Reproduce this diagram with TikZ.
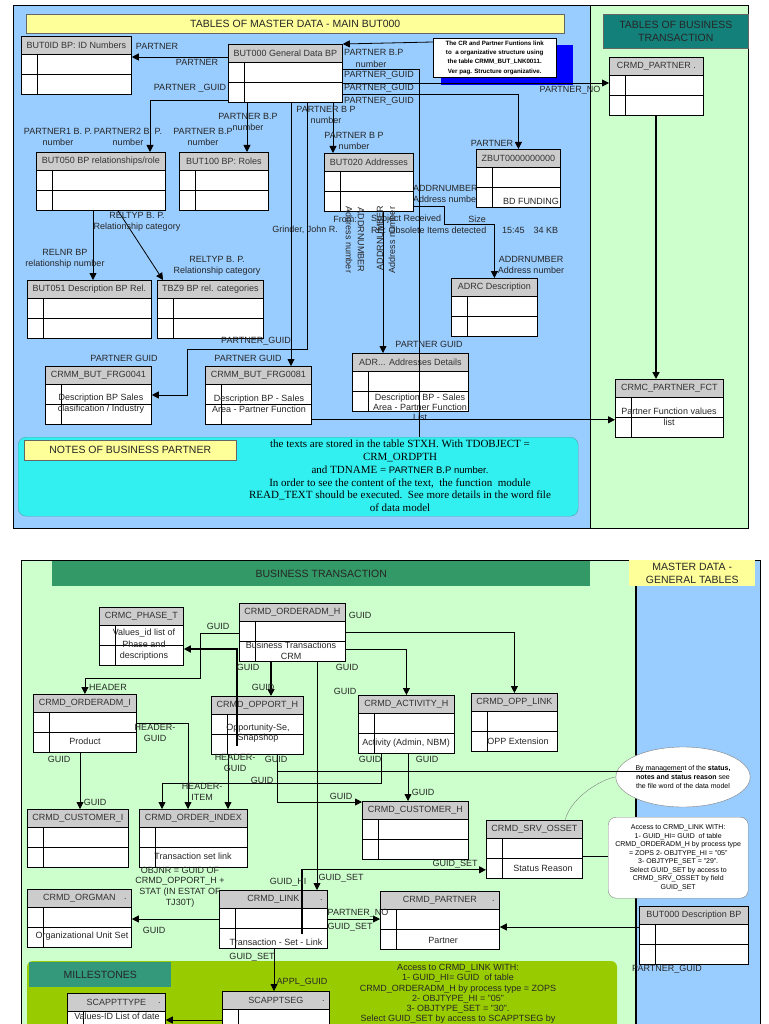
\documentclass[tikz,border=0pt]{standalone}
\usepackage{fontspec}
\setmainfont{Liberation Sans}
\newfontfamily\notefont{Liberation Serif}
\usepackage{tikz}
\usetikzlibrary{arrows.meta,positioning,calc,shapes.geometric}
\definecolor{mdblue}{HTML}{99CCFF}
\definecolor{btgreen}{HTML}{CCFFCC}
\definecolor{ttlyellow}{HTML}{FFFF99}
\definecolor{hdrgray}{HTML}{CCCCCC}
\definecolor{tealbar}{HTML}{14807A}
\definecolor{btbar}{HTML}{339966}
\definecolor{msgreen}{HTML}{99CC00}
\definecolor{msbar}{HTML}{33997A}
\definecolor{notecyan}{HTML}{33F0F0}
\definecolor{shadowblue}{HTML}{0000FF}

% table: [dot] name, x, y (top left), width, title
\newcommand{\dbtable}[6][]{%
  \node[tabbox, minimum width=#5, anchor=north west] (#2) at (#3,#4) {};
  \draw[tabline, fill=hdrgray] (#2.north west) rectangle ([yshift=-18pt]#2.north east);
  \draw[tabline] ([yshift=-38pt]#2.north west) -- ([yshift=-38pt]#2.north east);
  \draw[tabline] ([xshift=16pt,yshift=-18pt]#2.north west) -- ([xshift=16pt]#2.south west);
  \node[tabtitle] (#2t) at ([yshift=-9pt]#2.north) {#6};
  \node[tabtitle, anchor=east] (#2d) at ([xshift=-5pt,yshift=-10pt]#2.north east) {#1};
}

\begin{document}
\begin{tikzpicture}[x=1pt, y=-1pt,
  tabbox/.style={draw, fill=white, minimum height=58pt, inner sep=0pt, line width=0.8pt},
  tabline/.style={line width=0.8pt},
  tabtitle/.style={font=\fontsize{9}{10}\selectfont, text=black!80, inner sep=0pt},
  cell/.style={font=\fontsize{9}{11}\selectfont, text=black!85, inner sep=0pt, align=center},
  lbl/.style={font=\fontsize{9}{11.5}\selectfont, text=black!85, inner sep=0pt, align=center},
  bar/.style={draw=black!60, line width=0.5pt, inner sep=0pt, align=center, anchor=north west, font=\fontsize{10.5}{12.5}\selectfont, text=black!85},
  arr/.style={-{Triangle[length=7pt, width=7pt]}, line width=0.8pt},
  fatarr/.style={-{Triangle[length=7pt, width=7pt]}, line width=1.6pt},
  wire/.style={line width=0.8pt}
]
\useasboundingbox (0,0) rectangle (768,1024);
\fill[white] (0,0) rectangle (768,1024);

% ---- master data panel
\draw[fill=mdblue, line width=0.8pt] (13,5) rectangle (590,528);
\draw[fill=btgreen, line width=0.8pt] (590,5) rectangle (748,528);
\node[bar, fill=ttlyellow, minimum width=538, minimum height=19] (mdtitle) at (26,14) {TABLES OF MASTER DATA - MAIN BUT000};
\node[bar, fill=tealbar, minimum width=145, minimum height=34] (bttitle) at (603,14) {TABLES OF BUSINESS\\TRANSACTION};

\fill[shadowblue] (441,45) rectangle (573,85);
\node[draw, fill=white, minimum width=123, minimum height=39, anchor=north west, inner sep=0pt, align=center,
  font=\fontsize{6.2}{9.4}\selectfont\bfseries] (crnote) at (433,38)
  {The CR and Partner Funtions link\\to\ \ a organizative structure using\\the table CRMM\_BUT\_LNK0011.\\Ver pag. Structure organizative.};

\dbtable{bid}{21}{36}{110}{BUT0ID BP: ID Numbers}
\dbtable{bgen}{228}{44}{114}{BUT000 General Data BP}
\dbtable{brel}{36}{152}{129}{BUT050 BP relationships/role}
\dbtable{brol}{179}{152}{89}{BUT100 BP: Roles}
\dbtable{badr}{324}{153}{89}{BUT020 Addresses}
\node[lbl, anchor=west, align=left] (ladr1) at (413,194) {ADDRNUMBER\\Address number};
\dbtable{zbut}{476}{149}{84}{ZBUT0000000000}
\dbtable{cpar}{609}{57}{94}{CRMD\_PARTNER .}
\dbtable{brds}{27}{280}{124}{BUT051 Description BP Rel.}
\dbtable{tbz}{157}{280}{106}{TBZ9 BP rel. categories}
\dbtable{adrc}{451}{278}{86}{ADRC Description}
\dbtable{frg41}{45}{366}{106}{CRMM\_BUT\_FRG0041}
\dbtable{frg81}{205}{366}{106}{CRMM\_BUT\_FRG0081}
\dbtable{adrd}{352}{353}{116}{ADR... Addresses Details}
\dbtable{pfct}{615}{379}{108}{CRMC\_PARTNER\_FCT}

\node[cell] (zbutx) at (531,201) {BD FUNDING};
\node[cell] (frg41x) at (101,404) {Description BP Sales\\clasification / Industry};
\node[cell] (frg81x) at (259,404) {Description BP - Sales\\Area - Partner Function};
\node[cell, font=\fontsize{9}{10}\selectfont] (adrdx) at (420,407) {Description BP - Sales\\Area - Partner Function\\List};
\node[cell] (pfctx) at (669,417) {Partner Function values\\list};

% stray mail text
\node[lbl] (sfrom) at (345,219) {From:};
\node[lbl, anchor=west] (ssubj) at (371,219) {Subject Received};
\node[lbl] (ssize) at (477,219) {Size};
\node[lbl, anchor=east] (sname) at (338,230) {Grinder, John R.};
\node[lbl, anchor=west] (sre) at (371,230) {RE: Obsolete Items detected};
\node[lbl, anchor=west] (stime) at (502,230) {15:45\quad 34 KB};
\node[lbl, rotate=-90] (radr1) at (349,240) {Address number};
\node[lbl, rotate=-90] (radr2) at (361,240) {ADDRNUMBER};
\node[lbl, rotate=90] (radr3) at (380,238) {ADDRNUMBER};
\node[lbl, rotate=90] (radr4) at (392,240) {Address number};

\coordinate (drop) at (419,437);
\draw[arr] ([yshift=-4pt]crnote.north west) -- (bgen.north east);
\draw[arr] ([yshift=-13pt]bgen.north west) -- ([yshift=-13pt]bgen.north west -| bid.east);
\draw[arr] ([yshift=2pt]bgen.south west) -| ([xshift=114pt]brel.north west);
\draw[arr] ([xshift=19pt]bgen.south west) -- ([xshift=19pt]bgen.south west |- brol.north);
\draw[arr] ([xshift=105pt]bgen.south west) -- ([xshift=105pt]bgen.south west |- badr.north);
\draw[arr] ([xshift=63pt]bgen.south west) -- ([xshift=63pt]bgen.south west |- frg81.north);
\draw[arr] ([xshift=79pt]bgen.south west) |- ([xshift=36pt,yshift=17pt]frg41.north east) |- ([yshift=-29pt]frg41.north east);
\draw[wire] ([yshift=-25pt]bgen.north east) -| (drop);
\draw[arr] ([yshift=-39pt]bgen.north east) -- ([yshift=-39pt]bgen.north east -| cpar.west);
\draw[arr] ([yshift=-50pt]bgen.north east) -| (zbut.north);
\draw[arr] ([xshift=59pt]badr.south west) -- ([xshift=59pt]badr.south west |- adrd.north);
\draw[arr] ([yshift=5pt]badr.south east) -| ++(31,18) -| (adrc.north);
\draw[arr] ([xshift=57pt]brel.south west) -- ([xshift=57pt]brel.south west |- brds.north);
\draw[arr] ([xshift=82pt]brel.south west) -- ([xshift=6pt]tbz.north west);
\draw[fatarr] ([xshift=47pt]cpar.south west) -- ([xshift=47pt]cpar.south west |- pfct.north);
\draw[arr] ([yshift=5pt]frg81.south east) -- ([yshift=5pt]frg81.south east -| pfct.west);

\node[lbl] (lpa1) at (157,46) {PARTNER};
\node[lbl] (lpa2) at (197,62) {PARTNER};
\node[lbl] (lpg1) at (190,88) {PARTNER \_GUID};
\node[lbl] (lp1) at (58,137) {PARTNER1 B. P.\\number};
\node[lbl] (lp2) at (128,137) {PARTNER2 B. P.\\number};
\node[lbl] (lbp1) at (248,122) {PARTNER B.P\\number};
\node[lbl] (lbp2) at (203,137) {PARTNER B.P\\number};
\node[lbl] (lbp3) at (326,115) {PARTNER B P\\number};
\node[lbl] (lbp4) at (354,141) {PARTNER B P\\number};
\node[lbl, anchor=west] (lrbp) at (344,52) {PARTNER B.P};
\node[lbl] (lrnum) at (371,64) {number};
\node[lbl, anchor=west] (lrg1) at (344,75) {PARTNER\_GUID};
\node[lbl, anchor=west] (lrg2) at (344,88) {PARTNER\_GUID};
\node[lbl, anchor=west] (lrg3) at (344,101) {PARTNER\_GUID};
\node[lbl] (lzp) at (492,143) {PARTNER};
\node[lbl] (lpno) at (570,90) {PARTNER\_NO};
\node[lbl] (ladr2) at (531,265) {ADDRNUMBER\\Address number};
\node[lbl] (lrt1) at (137,222) {RELTYP B. P.\\Relationship category};
\node[lbl] (lrt2) at (217,266) {RELTYP B. P.\\Relationship category};
\node[lbl] (lrelnr) at (65,259) {RELNR BP\\relationship number};
\node[lbl] (lpg41) at (124,358) {PARTNER GUID};
\node[lbl] (lpg81) at (248,358) {PARTNER GUID};
\node[lbl] (lpgu) at (256,341) {PARTNER\_GUID};
\node[lbl] (lpgadr) at (429,344) {PARTNER GUID};

% notes
\node[draw=teal!70, fill=notecyan, rounded corners=8pt, minimum width=560, minimum height=79, anchor=north west, inner sep=0pt] (notes) at (18,437) {};
\node[bar, fill=ttlyellow, minimum width=212, minimum height=20] (notehdr) at (24,440) {NOTES OF BUSINESS PARTNER};
\node[font=\notefont\fontsize{11}{12.8}\selectfont, align=center, inner sep=0pt] (notetxt) at (400,476)
  {the texts are stored in the table STXH. With TDOBJECT =\\CRM\_ORDPTH\\and TDNAME = {\rmfamily\fontsize{9.5}{12.8}\selectfont PARTNER B.P number.}\\In order to see the content of the text,\ \ the function\ \ module\\READ\_TEXT should be executed.\ \ See more details in the word file\\of data model};

% ---- business transaction panel
\draw[fill=btgreen, line width=0.8pt] (21,560) rectangle (636,1030);
\draw[fill=mdblue, line width=0.8pt] (636,560) rectangle (760,1030);
\draw[line width=1.6pt] (636,586) -- (636,1030);
\node[bar, fill=btbar, draw=none, minimum width=538, minimum height=25] (btbar) at (52,561) {BUSINESS TRANSACTION};
\node[bar, fill=ttlyellow, draw=none, minimum width=126, minimum height=26] (gentitle) at (629,560) {MASTER DATA -\\GENERAL TABLES};
\fill[msgreen, rounded corners=6pt] (27,961) rectangle (617,1045);
\node[bar, fill=msbar, draw=none, minimum width=142, minimum height=25] (msbar) at (29,962) {MILLESTONES};

\dbtable{phase}{99}{607}{84}{CRMC\_PHASE\_T}
\dbtable{ordh}{239}{603}{106}{CRMD\_ORDERADM\_H}
\dbtable{ordi}{33}{694}{103}{CRMD\_ORDERADM\_I}
\dbtable{opph}{211}{696}{92}{CRMD\_OPPORT\_H}
\dbtable{acth}{358}{695}{96}{CRMD\_ACTIVITY\_H}
\dbtable{oppl}{471}{693}{86}{CRMD\_OPP\_LINK}
\dbtable{cusi}{27}{809}{101}{CRMD\_CUSTOMER\_I}
\dbtable{oidx}{139}{809}{108}{CRMD\_ORDER\_INDEX}
\dbtable{cush}{362}{801}{106}{CRMD\_CUSTOMER\_H}
\dbtable{osset}{486}{820}{96}{CRMD\_SRV\_OSSET}
\dbtable[.]{orgm}{27}{889}{104}{CRMD\_ORGMAN}
\dbtable[.]{link}{219}{890}{108}{CRMD\_LINK}
\dbtable[.]{cpar2}{380}{891}{119}{CRMD\_PARTNER}
\dbtable{bdesc}{639}{906}{109}{BUT000 Description BP}
\dbtable[.]{sctyp}{67}{993}{98}{SCAPPTTYPE}
\dbtable[.]{scseg}{222}{991}{107}{SCAPPTSEG}

\node[cell, font=\fontsize{9}{11.5}\selectfont] (phasex) at (144,645) {Values\_id list of\\Phase and\\descriptions};
\node[cell] (ordhx) at (291,651) {Business Transactions\\CRM};
\node[cell] (ordix) at (85,741) {Product};
\node[cell, font=\fontsize{9}{10}\selectfont] (opphx) at (258,733) {Opportunity-Se,\\Snapshop};
\node[cell] (acthx) at (406,743) {Activity (Admin, NBM)};
\node[cell] (opplx) at (518,741) {OPP Extension};
\node[cell] (oidxx) at (193,856) {Transaction set link};
\node[cell] (ossetx) at (543,868) {Status Reason};
\node[cell] (orgmx) at (82,936) {Organizational Unit Set};
\node[cell] (linkx) at (276,942) {Transaction - Set - Link};
\node[cell] (cpar2x) at (443,940) {Partner};
\node[cell] (sctypx) at (117,1016) {Values-ID List of date};

\node[ellipse, draw=gray, fill=white, minimum width=108, minimum height=60, inner sep=0pt, align=center,
  font=\fontsize{7}{9}\selectfont] (ell) at (683,777)
  {By management of the \textbf{status,}\\\textbf{notes and status reason} see\\the file word of the data model};
\node[draw=gray, fill=white, rounded corners=8pt, minimum width=140, minimum height=81, anchor=north west, inner sep=0pt,
  align=center, font=\fontsize{7}{8.5}\selectfont] (accnote) at (608,817)
  {Access to CRMD\_LINK WITH:\\1- GUID\_HI= GUID\ \ of table\\CRMD\_ORDERADM\_H by process type\\= ZOPS 2- OBJTYPE\_HI = "05"\\3- OBJTYPE\_SET = "29".\\Select GUID\_SET by access to\\CRMD\_SRV\_OSSET by field\\GUID\_SET};
\node[font=\fontsize{9}{10.2}\selectfont, align=center, inner sep=0pt, text=black!85] (mstext) at (458,994)
  {Access to CRMD\_LINK WITH:\\1- GUID\_HI= GUID\ \ of table\\CRMD\_ORDERADM\_H by process type = ZOPS\\2- OBJTYPE\_HI = "05"\\3- OBJTYPE\_SET = "30".\\Select GUID\_SET by access to SCAPPTSEG by};

\draw[arr] ([yshift=-30pt]ordh.north west) -| ++(-39,45) -| (ordi.north);
\draw[fatarr] ([xshift=26pt,yshift=9pt]opph.south west) |- ([yshift=-42pt]phase.north east);
\draw[fatarr] ([xshift=32pt]ordh.south west) -- ([xshift=32pt]ordh.south west |- opph.north);
\draw[arr] ([yshift=-46pt]ordh.north east) -| (acth.north);
\draw[arr] ([yshift=-29pt]ordh.north east) -| (oppl.north);
\draw[arr] ([xshift=78pt]ordh.south west) -- ([xshift=78pt]ordh.south west |- link.north);
\draw[arr] ([yshift=-29pt]ordi.north east) -| ([xshift=49pt]oidx.north west);
\draw[arr] ([xshift=47pt]ordi.south west) -- ([xshift=47pt]ordi.south west |- cusi.north);
\draw[arr] ([xshift=17pt]opph.south west) -- ([xshift=17pt]opph.south west |- oidx.north);
\draw[arr] ([xshift=66pt]opph.south west) |- ([yshift=-1pt]cush.north west);
\draw[wire] ([xshift=66pt,yshift=-17pt]opph.south west) -- ([xshift=66pt,yshift=-17pt]opph.south west -| ell.west);
\draw[arr] ([xshift=23pt]acth.south west) |- ([xshift=23pt,yshift=26pt]oidx.north west) -- ([xshift=23pt]oidx.north west);
\draw[arr] ([xshift=50pt]acth.south west) -- ([xshift=50pt]acth.south west |- cush.north);
\draw[arr, line width=1.2pt] ([xshift=83pt,yshift=15pt]link.south west) |- ([yshift=9pt]osset.south west);
\draw[arr] ([yshift=-29pt]link.north west) -- ([yshift=-29pt]link.north west -| orgm.east);
\draw[arr] ([yshift=-29pt]link.north east) -- ([yshift=-29pt]link.north east -| cpar2.west);
\draw[arr] ([xshift=55pt]link.south west) -- ([xshift=55pt]link.south west |- scseg.north);
\draw[arr] ([yshift=-29pt]scseg.north west) -- ([yshift=-29pt]scseg.north west -| sctyp.east);
\draw[arr] ([yshift=-21pt]bdesc.north west) -- ([yshift=-21pt]bdesc.north west -| cpar2.east);
\draw[wire] ([yshift=-36pt]osset.north east) -- ([yshift=-36pt]osset.north east -| accnote.west);
\draw[gray] (ell.west) .. controls (605,778) and (572,795) .. ([xshift=79pt]osset.north west);

\node[lbl] (lg1) at (360,615) {GUID};
\node[lbl] (lg2) at (218,626) {GUID};
\node[lbl] (lhdr) at (108,687) {HEADER};
\node[lbl] (lg3) at (248,667) {GUID};
\node[lbl] (lg4) at (347,667) {GUID};
\node[lbl] (lg5) at (263,687) {GUID};
\node[lbl] (lg6) at (345,691) {GUID};
\node[lbl] (lhg1) at (155,733) {HEADER-\\GUID};
\node[lbl] (lg7) at (59,759) {GUID};
\node[lbl] (lhg2) at (235,763) {HEADER-\\GUID};
\node[lbl] (lg8) at (276,759) {GUID};
\node[lbl] (lg9) at (370,759) {GUID};
\node[lbl] (lg10) at (427,759) {GUID};
\node[lbl] (lg11) at (262,780) {GUID};
\node[lbl] (lhi) at (202,792) {HEADER-\\ITEM};
\node[lbl] (lg12) at (95,802) {GUID};
\node[lbl] (lg13) at (341,796) {GUID};
\node[lbl] (lg14) at (423,792) {GUID};
\node[lbl] (lgs1) at (455,864) {GUID\_SET};
\node[lbl] (lghi) at (288,882) {GUID\_HI};
\node[lbl] (lgs2) at (341,878) {GUID\_SET};
\node[lbl, font=\fontsize{9}{10.7}\selectfont] (lobj) at (180,887) {OBJNR = GUID OF\\CRMD\_OPPORT\_H +\\STAT (IN ESTAT OF\\TJ30T)};
\node[lbl] (lg15) at (154,930) {GUID};
\node[lbl] (lpno2) at (358,913) {PARTNER\_NO};
\node[lbl] (lgs3) at (350,927) {GUID\_SET};
\node[lbl] (lgs4) at (252,957) {GUID\_SET};
\node[lbl] (lappl) at (302,982) {APPL\_GUID};
\node[lbl] (lpgb) at (667,969) {PARTNER\_GUID};
\end{tikzpicture}
\end{document}
